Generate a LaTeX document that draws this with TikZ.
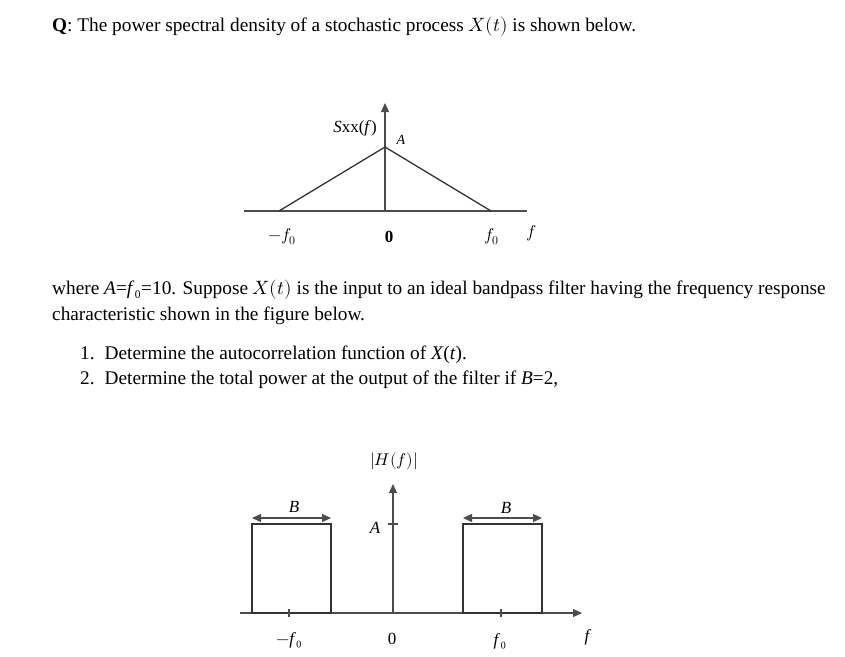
\documentclass[tikz,border=0pt]{standalone}
\usepackage{fontspec}
\setmainfont{Liberation Serif}
\usepackage{unicode-math}
\setmathfont{Latin Modern Math}
\usetikzlibrary{arrows.meta}
\begin{document}
\begin{tikzpicture}[x=1pt,y=-1pt,
  txt/.style={anchor=west,inner sep=0pt,font=\fontsize{19.3}{23}\selectfont},
  lbl/.style={inner sep=0pt,font=\fontsize{17}{20}\selectfont},
  ax/.style={line width=1.2pt,gray!60!black},
  tip/.style={-{Triangle[length=9pt,width=8pt]}},
  tips/.style={{Triangle[length=9pt,width=8pt]}-{Triangle[length=9pt,width=8pt]}},
  ln/.style={line width=1.3pt,black!80}]
\useasboundingbox (0,0) rectangle (845,656);
\node[txt] (q) at (52,27) {\textbf{Q}: The power spectral density of a stochastic process $X(t)$ is shown below.};
% PSD
\coordinate (l) at (244,211); \coordinate (r) at (527,211);
\coordinate (o) at (385,211); \coordinate (top) at (385,103);
\coordinate (pk) at (385,147); \coordinate (a) at (279,211); \coordinate (b) at (491,211);
\draw[ax] (l) -- (r);
\draw[ax,tip] (o) -- (top);
\draw[ln] (a) -- (pk) -- (b);
\node[lbl] (m1) at (282,237) {$-f_{0}$};
\node[lbl] (z1) at (389,237) {\textbf{0}};
\node[lbl] (p1) at (492,237) {$f_{0}$};
\node[lbl] (f1) at (531,233) {$f$};
\node[lbl] (s) at (355,128) {\textit{S}xx(\textit{f})};
\node[lbl,font=\fontsize{14}{16}\selectfont] (A1) at (401,140) {\textit{A}};
\node[txt] (w1) at (52,290) {where \textit{A}=\textit{f}₀=10. Suppose $X(t)$ is the input to an ideal bandpass filter having the frequency response};
\node[txt] (w2) at (52,316) {characteristic shown in the figure below.};
\node[txt] (i1) at (80,355) {1.\hspace{10pt}Determine the autocorrelation function of \textit{X}(\textit{t}).};
\node[txt] (i2) at (80,380) {2.\hspace{10pt}Determine the total power at the output of the filter if \textit{B}=2,};
% H
\coordinate (hl) at (240,613); \coordinate (hr) at (582,613);
\coordinate (ho) at (393,613); \coordinate (ht) at (393,484);
\draw[ax,tip] (hl) -- (hr);
\draw[ax,tip] (ho) -- (ht);
\draw[ax] (388,524) -- (398,524);
\draw[ln] (252,613) rectangle (331,524);
\draw[ln] (463,613) rectangle (542,524);
\draw[ax] (289,609) -- (289,617);
\draw[ax] (501,609) -- (501,617);
\draw[ax,tips] (252,518) -- (331,518);
\draw[ax,tips] (463,518) -- (542,518);
\node[lbl] (B1) at (294,507) {\textit{B}};
\node[lbl] (B2) at (506,508) {\textit{B}};
\node[lbl] (A2) at (375,528) {\textit{A}};
\node[lbl] (H) at (394,461) {$|H(f)|$};
\node[lbl] (m2) at (289,640) {$-$\textit{f}₀};
\node[lbl] (z2) at (392,639) {0};
\node[lbl] (p2) at (500,641) {\textit{f}₀};
\node[lbl] (f2) at (588,637) {\textit{f}};
\end{tikzpicture}
\end{document}
